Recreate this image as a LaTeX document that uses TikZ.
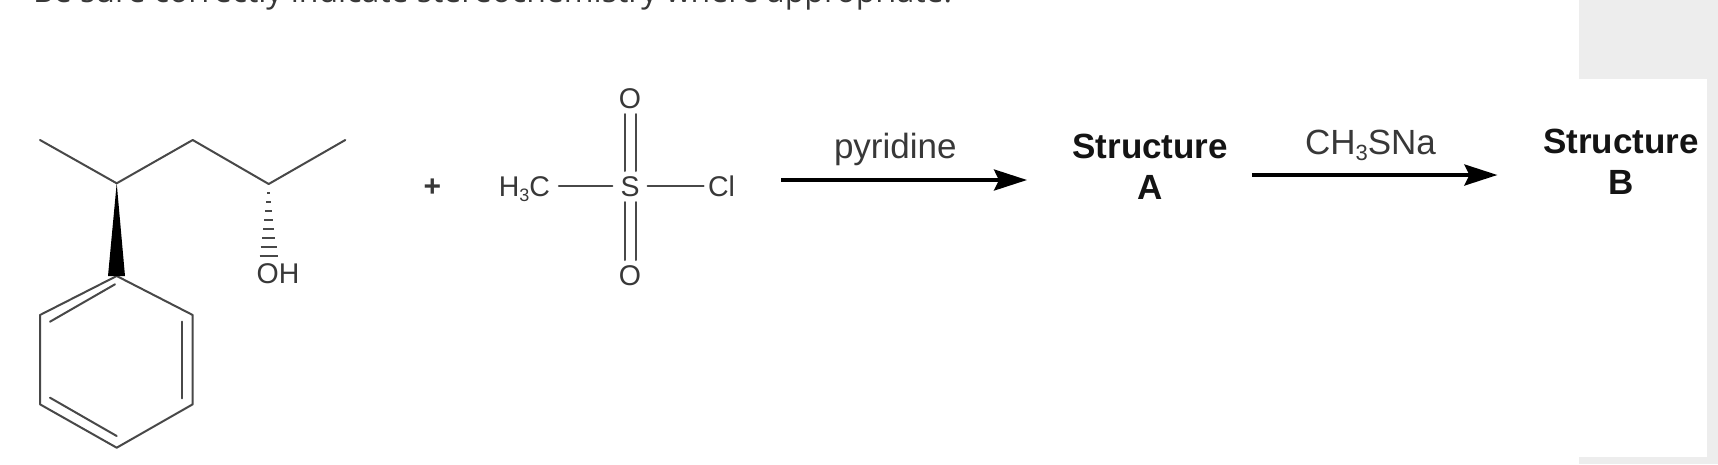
\documentclass[tikz,border=0pt]{standalone}
\usepackage{fontspec}
\setmainfont{Liberation Sans}
\newfontfamily\topfont{Open Sans}
\usetikzlibrary{arrows.meta}
\definecolor{bondc}{HTML}{484848}
\definecolor{txtc}{HTML}{383838}
\definecolor{panelc}{HTML}{EDEDED}
\tikzset{
  x=1pt,y=-1pt,
  bond/.style={draw=bondc,line width=2pt,line cap=round,line join=round},
  atom/.style={inner sep=0pt,outer sep=0pt,text=txtc,font=\fontsize{28.5}{28.5}\selectfont,anchor=base},
  labeltxt/.style={inner sep=0pt,text=txtc,font=\fontsize{35}{35}\selectfont,anchor=base},
  strongtxt/.style={inner sep=0pt,text=black!92,font=\fontsize{35}{35}\selectfont\bfseries,anchor=base},
  rxnarrow/.style={draw=black,line width=3.8pt,-{Stealth[length=33pt,width=21pt,inset=5pt]}},
}
\begin{document}
\begin{tikzpicture}
\useasboundingbox (0,0) rectangle (1718,464);
\clip (0,0) rectangle (1718,464);
\fill[white] (0,0) rectangle (1718,464);
\fill[panelc] (1579,0) rectangle (1718,464);
\fill[white] (1579,79) rectangle (1707,457);
\node[anchor=base west,inner sep=0pt,text=txtc,font=\topfont\fontsize{32}{32}\selectfont] (top) at (33,2.5) {Be sure correctly indicate stereochemistry where appropriate.};
% skeleton
\coordinate (m1) at (40,140);
\coordinate (c1) at (116.7,183.3);
\coordinate (c2) at (192.7,140);
\coordinate (c3) at (268.7,184);
\coordinate (m2) at (345.3,140);
\coordinate (r1) at (116.7,276);
\coordinate (r2) at (192.7,315);
\coordinate (r3) at (192.7,404.3);
\coordinate (r4) at (116.7,447.7);
\coordinate (r5) at (40,404.3);
\coordinate (r6) at (40,315);
\draw[bond] (m1)--(c1)--(c2)--(c3)--(m2);
\draw[bond] (r1)--(r2)--(r3)--(r4)--(r5)--(r6)--cycle;
\coordinate (i1a) at (50,321.7); \coordinate (i1b) at (115,284.3);
\coordinate (i2a) at (182,321.7); \coordinate (i2b) at (182,398.3);
\coordinate (i3a) at (50,397.7); \coordinate (i3b) at (116.7,436);
\draw[bond] (i1a)--(i1b);
\draw[bond] (i2a)--(i2b);
\draw[bond] (i3a)--(i3b);
\coordinate (wl) at (108,276); \coordinate (wr) at (125,276);
\fill[black] (c1)--(wr)--(r1)--(wl)--cycle;
\foreach \yy/\hw in {192.7/1.5,201.7/2.5,210.7/3.5,219.7/4.5,228.7/5.5,237.7/6.5,246.7/8,255.7/9}{
  \draw[bondc,line width=2.1pt] (268.7-\hw,\yy)--(268.7+\hw,\yy);
}
\node[atom] (oh) at (278,283) {OH};
\node[atom,font=\fontsize{30}{30}\selectfont\bfseries] (plus) at (432.3,196) {+};
% mesyl chloride
\node[atom,anchor=base east] (h3c) at (550,196.7) {H\raisebox{-0.18em}{\fontsize{18}{18}\selectfont 3}C};
\node[atom] (s) at (630,196.7) {S};
\node[atom,anchor=base west] (cl) at (708,196.7) {Cl};
\node[atom] (o1) at (630,108.5) {O};
\node[atom] (o2) at (630,285) {O};
\coordinate (a1) at (558.8,186); \coordinate (a2) at (612.3,186);
\coordinate (a3) at (647.5,186); \coordinate (a4) at (703.5,186);
\draw[bond] (a1)--(a2);
\draw[bond] (a3)--(a4);
\coordinate (d1) at (625.1,114); \coordinate (d2) at (625.1,171);
\coordinate (d3) at (636.3,114); \coordinate (d4) at (636.3,171);
\coordinate (d5) at (625.1,202); \coordinate (d6) at (625.1,260);
\coordinate (d7) at (636.3,202); \coordinate (d8) at (636.3,260);
\draw[bond] (d1)--(d2);
\draw[bond] (d3)--(d4);
\draw[bond] (d5)--(d6);
\draw[bond] (d7)--(d8);
% reaction arrows
\coordinate (ar1s) at (781.4,180); \coordinate (ar1e) at (1027,180);
\coordinate (ar2s) at (1251.8,175); \coordinate (ar2e) at (1497.4,175);
\draw[rxnarrow] (ar1s)--(ar1e);
\draw[rxnarrow] (ar2s)--(ar2e);
\node[labeltxt] (py) at (895.3,158.3) {pyridine};
\node[labeltxt] (ch) at (1370.5,154) {CH\raisebox{-0.18em}{\fontsize{22}{22}\selectfont 3}SNa};
\node[strongtxt] (sa) at (1150.2,158.3) {Structure};
\node[strongtxt] (aa) at (1150.2,199) {A};
\node[strongtxt] (sb) at (1620.8,153.3) {Structure};
\node[strongtxt] (bb) at (1620.8,194) {B};
\end{tikzpicture}
\end{document}
